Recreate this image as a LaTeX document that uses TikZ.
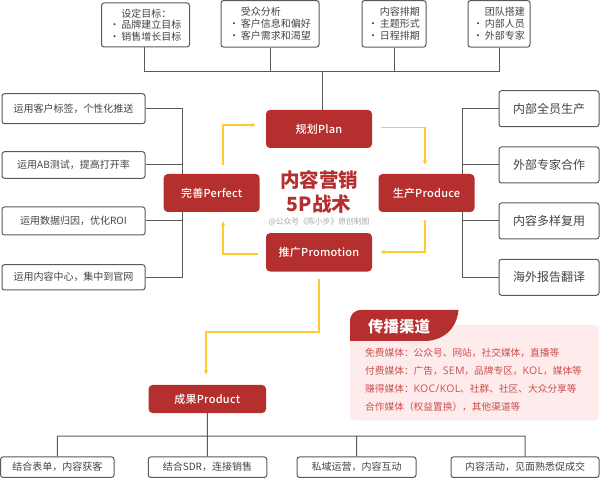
\documentclass[tikz,border=0pt]{standalone}
\usepackage{fontspec}
\setmainfont{Noto Sans CJK SC}
\newfontfamily\medf[UprightFont={* Medium},LetterSpace=2]{Noto Sans CJK SC}
\newfontfamily\latf[Scale=1.08,LetterSpace=3]{Open Sans}
\definecolor{rd}{HTML}{B52F2E}
\definecolor{gl}{HTML}{5A5A5A}
\definecolor{yl}{HTML}{FFCB2E}
\definecolor{pk}{HTML}{FDECEB}
\definecolor{tr}{HTML}{CC4F4F}
\definecolor{tx}{HTML}{444444}
\usetikzlibrary{arrows.meta}
\newcommand{\dotmark}{{·}\,}
\newcommand{\nodot}{\phantom{·}\,}
\tikzset{
  x=1pt,y=-1pt,
  wb/.style={draw=gl,line width=1pt,rounded corners=2.5pt,fill=white,text=tx,inner sep=0pt,align=center,font=\fontsize{10}{11.8}\selectfont},
  topb/.style={wb,align=left},
  bigb/.style={wb,font=\fontsize{12}{14}\selectfont},
  smallb/.style={wb,font=\fontsize{10}{12}\selectfont},
  rb/.style={fill=rd,draw=none,rounded corners=4pt,text=white,inner sep=0pt,font=\medf\fontsize{11}{12}\selectfont},
  conn/.style={draw=gl,line width=1pt},
  ya/.style={draw=yl,line width=1.1pt,-{Latex[length=4.5pt,width=4.5pt]}},
  sized/.style 2 args={minimum width=#1pt,minimum height=#2pt},
  chan/.style={text=tr,inner sep=0pt,anchor=west,font=\fontsize{9.7}{11}\selectfont},
}
\begin{document}
\begin{tikzpicture}
\useasboundingbox (0,0) rectangle (600,478);
% top boxes
\node[topb,sized={88}{44}] (t1) at (145.5,25) {\nodot 设定目标：\\\dotmark 品牌建立目标\\\dotmark 销售增长目标};
\node[topb,sized={98}{46.5}] (t2) at (270,23.8) {\nodot 受众分析\\\dotmark 客户信息和偏好\\\dotmark 客户需求和渴望};
\node[topb,sized={64}{46.5}] (t3) at (394,23.8) {\nodot 内容排期\\\dotmark 主题形式\\\dotmark 日程排期};
\node[topb,sized={62}{46.5}] (t4) at (499,23.8) {\nodot 团队搭建\\\dotmark 内部人员\\\dotmark 外部专家};
% bus coordinates
\coordinate (topbus) at (322,72);
\coordinate (planin) at (322,110);
\coordinate (lspine) at (182,190);
\coordinate (rspine) at (462,190);
\coordinate (botbus) at (207,436);
% left boxes
\node[smallb,sized={143}{30}] (l1) at (73.5,108.7) {运用客户标签，个性化推送};
\node[smallb,sized={143}{26.6}] (l2) at (73.5,165) {运用AB测试，提高打开率};
\node[smallb,sized={143}{28}] (l3) at (73.5,221) {运用数据归因，优化ROI};
\node[smallb,sized={143}{25.3}] (l4) at (73.5,277.3) {运用内容中心，集中到官网};
% right boxes
\node[bigb,sized={100}{36}] (r1) at (549,108.7) {内部全员生产};
\node[bigb,sized={100}{36}] (r2) at (549,165) {外部专家合作};
\node[bigb,sized={100}{36}] (r3) at (549,221) {内容多样复用};
\node[bigb,sized={100}{36}] (r4) at (549,277.3) {海外报告翻译};
% bottom boxes
\node[smallb,sized={113.5}{20.5}] (b1) at (57.3,467.2) {结合表单，内容获客};
\node[smallb,sized={118.5}{20.5}] (b2) at (207.5,467.2) {结合SDR，连接销售};
\node[smallb,sized={119}{20.5}] (b3) at (356.5,467.2) {私域运营，内容互动};
\node[smallb,sized={148}{20.5}] (b4) at (525,467.2) {内容活动，见面熟悉促成交};
\node[rb,sized={117.5}{28}] (product) at (207.3,399) {成果Product};
% grey connectors (drawn below the red nodes)
\draw[conn] ([xshift=-1.2pt]t1.south) |- (topbus) (t2.south) -- (t2.south |- topbus) (t3.south) -- (t3.south |- topbus) (t4.south) |- (topbus) (topbus) -- (planin);
\draw[conn] (l1.east) -| (lspine) (l4.east) -| (lspine) (l2.east) -- (l2.east -| lspine) (l3.east) -- (l3.east -| lspine);
\draw[conn] (r1.west) -| (rspine) (r4.west) -| (rspine) (r2.west) -- (r2.west -| rspine) (r3.west) -- (r3.west -| rspine);
\draw[conn] (product.south) -- (b2.north) (b1.north) |- (botbus) (b4.north) |- (botbus) (b3.north) -- (b3.north |- botbus);
% core nodes
\node[rb,sized={106}{38}] (plan) at (319,129) {规划Plan};
\node[rb,sized={96}{38}] (perfect) at (211.7,193) {完善Perfect};
\node[rb,sized={96}{38}] (produce) at (426.5,193) {生产Produce};
\node[rb,sized={106}{38.5}] (promo) at (319,252.3) {推广Promotion};
% yellow flow
\coordinate (a1) at (223,165); \coordinate (a2) at (256,125);
\coordinate (c1) at (381,127.5); \coordinate (c2) at (425,165);
\coordinate (e1) at (425,220); \coordinate (e2) at (380,252);
\coordinate (g1) at (258,254); \coordinate (g2) at (223,221);
\coordinate (i1) at (319,279); \coordinate (i2) at (206,375); \coordinate (i3) at (319,332);
\draw[ya] (a1) |- (a2);
\draw[ya] (c1) -| (c2);
\draw[ya] (e1) |- (e2);
\draw[ya] (g1) -| (g2);
\draw[ya] (i1) -- (i3) -| (i2);
% title
\node[text=rd,font=\bfseries\fontsize{19.5}{23}\selectfont,inner sep=0pt] (title1) at (319,180) {内容营销};
\node[text=rd,font=\bfseries\fontsize{19.5}{23}\selectfont,inner sep=0pt] (title2) at (319,204.5) {5P战术};
\node[text=black!35,font=\fontsize{7.8}{9}\selectfont,inner sep=0pt] (mark) at (319,222) {@公众号《陈小步》原创制图};
% channel panel
\fill[pk,rounded corners=5pt] (350,325) rectangle (599,420.5);
\fill[rd] (350,341) -- (350,322) .. controls (350,314) and (354,310) .. (362,310) -- (458.5,310) .. controls (457,327) and (445,341) .. (424,341) -- cycle;
\node[text=white,font=\bfseries\fontsize{15.5}{18}\selectfont,inner sep=0pt] (chantitle) at (399,327) {传播渠道};
\node[chan] (c1t) at (365,353) {免费媒体：公众号、网站，社交媒体，直播等};
\node[chan] (c2t) at (365,371) {付费媒体：广告，{\latf SEM}，品牌专区，{\latf KOL}，媒体等};
\node[chan] (c3t) at (365,389) {赚得媒体：{\latf KOC/KOL}、社群、社区、大众分享等};
\node[chan] (c4t) at (365,407) {合作媒体（权益置换），其他渠道等};
\end{tikzpicture}
\end{document}
